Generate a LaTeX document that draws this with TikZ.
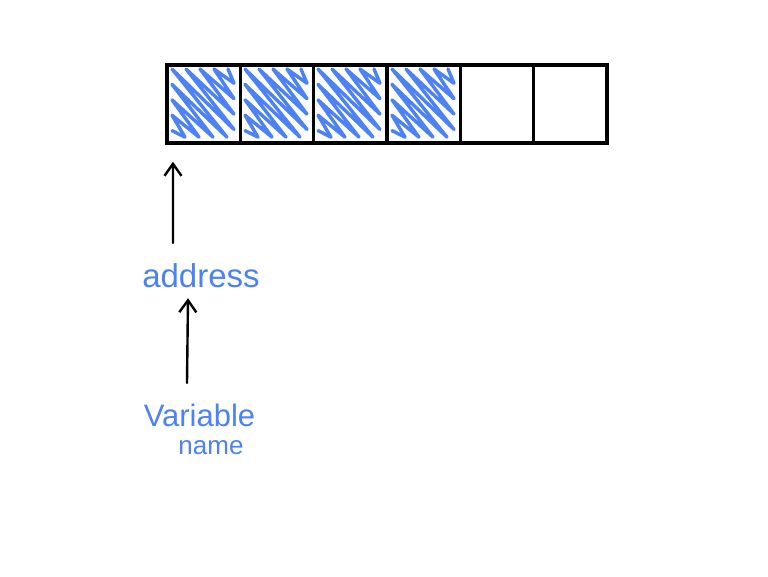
\documentclass[tikz,border=0pt]{standalone}
\usepackage{fontspec}
\setmainfont{Liberation Sans}
\usetikzlibrary{arrows.meta}
\definecolor{hand}{RGB}{76,130,245}
\tikzset{
  cell/.style={draw=black, line width=3.5pt, minimum width=73.33pt, minimum height=78pt, inner sep=0pt},
  hatch/.style={draw=hand, line width=3.4pt, line cap=round, line join=round},
  arr/.style={draw=black, line width=2.4pt, line cap=round, -{Straight Barb[length=12pt,width=17pt,line width=2.4pt]}},
  lbl/.style={text=hand, inner sep=0pt, anchor=base},
  scribble/.pic={
    \draw[hatch] (56,0)--(62,13)--(42,0)--(62,27)--(28,0)--(62,41)--(14,0)--(62,55)--(0,0)--(55,62)--(0,14)--(41,62)--(0,28)--(27,62)--(0,42)--(13,62)--(0,56);
  }
}
\begin{document}
\begin{tikzpicture}[x=1pt,y=-1pt]
\useasboundingbox[fill=white] (0,0) rectangle (768,576);
% scribbles
\pic[yscale=1.1] at (172,69) {scribble};
\pic[yscale=1.1] at (245,69) {scribble};
\pic[yscale=1.1] at (318,69) {scribble};
\pic[yscale=1.1] at (392,69) {scribble};
% cells
\foreach \i in {1,...,6}{
  \node[cell] (c\i) at ({167+73.33*(\i-0.5)},104) {};
}
% labels
\node[lbl, font=\fontsize{33}{36}\selectfont, text height=22pt, text depth=4pt] (addr) at (201,287) {address};
\node[lbl, font=\fontsize{31}{34}\selectfont, text height=30pt, text depth=1pt] (vn) at (199.5,426) {Variable};
\node[lbl, font=\fontsize{26}{28}\selectfont, text height=14pt] (nm) at (211,454) {name};
% connectors
\coordinate (tip) at ([xshift=-30.7pt,yshift=-17pt]c1.south);
\draw[arr] ([xshift=-28pt,yshift=22pt]addr.north) -- (tip);
\draw[arr] ([xshift=-12.5pt,yshift=13pt]vn.north) -- ([xshift=-13pt,yshift=-7pt]addr.south);
\end{tikzpicture}
\end{document}
